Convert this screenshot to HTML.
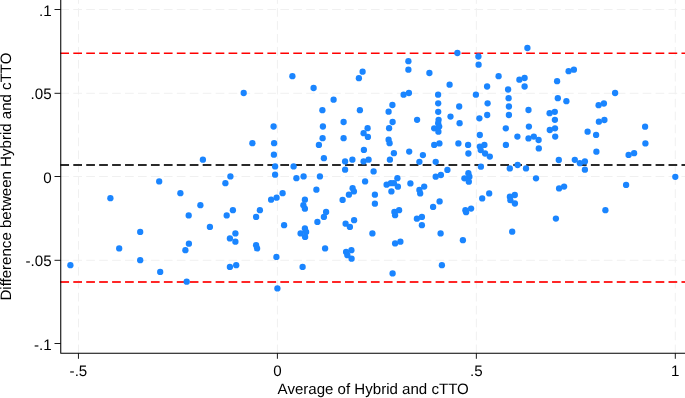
<!DOCTYPE html>
<html><head><meta charset="utf-8"><title>Bland-Altman plot</title>
<style>
html,body{margin:0;padding:0;background:#fff;}
svg{display:block;}
text{font-family:"Liberation Sans",Arial,sans-serif;font-size:15.07px;fill:#000;text-rendering:geometricPrecision;}
.t text{font-size:15.15px;}
.g{stroke:#f0f0f0;stroke-width:1;stroke-dasharray:8.7 4.24;fill:none;}
.ax{stroke:#000;stroke-width:1.05;fill:none;}
.tk{stroke:#000;stroke-width:0.9;fill:none;}
.r{stroke:#ff0000;stroke-width:1.65;stroke-dasharray:8.7 4.24;fill:none;}
.k{stroke:#2a2a2a;stroke-width:2;stroke-dasharray:8.7 4.24;fill:none;}
.d circle{fill:#1a85ff;}
</style></head><body>
<svg width="685" height="398" viewBox="0 0 685 398">
<rect width="685" height="398" fill="#fff"/>

<line class="g" x1="60.35" x2="690" y1="9.50" y2="9.50"/>
<line class="g" x1="60.35" x2="690" y1="93.30" y2="93.30"/>
<line class="g" x1="60.35" x2="690" y1="176.50" y2="176.50"/>
<line class="g" x1="60.35" x2="690" y1="260.30" y2="260.30"/>
<line class="g" x1="78.45" x2="78.45" y1="353.25" y2="-5"/>
<line class="g" x1="277.40" x2="277.40" y1="353.25" y2="-5"/>
<line class="g" x1="476.35" x2="476.35" y1="353.25" y2="-5"/>
<line class="g" x1="675.30" x2="675.30" y1="353.25" y2="-5"/>
<line class="r" x1="60.35" x2="690" y1="53.25" y2="53.25"/>
<line class="r" style="stroke:#ff2626;stroke-width:2" x1="60.35" x2="690" y1="282" y2="282"/>
<line class="k" x1="60.35" x2="690" y1="165" y2="165"/>
<g class="d">
<circle cx="202.9" cy="159.7" r="3.15"/>
<circle cx="159.2" cy="181.4" r="3.15"/>
<circle cx="180.4" cy="193.2" r="3.15"/>
<circle cx="110.4" cy="198.2" r="3.15"/>
<circle cx="225.4" cy="183.2" r="3.15"/>
<circle cx="230.4" cy="176.4" r="3.15"/>
<circle cx="70.4" cy="265.2" r="3.15"/>
<circle cx="119.2" cy="248.4" r="3.15"/>
<circle cx="140.2" cy="231.9" r="3.15"/>
<circle cx="140.2" cy="260.2" r="3.15"/>
<circle cx="160.2" cy="271.9" r="3.15"/>
<circle cx="186.7" cy="281.7" r="3.15"/>
<circle cx="185.4" cy="250.2" r="3.15"/>
<circle cx="188.9" cy="243.7" r="3.15"/>
<circle cx="188.7" cy="215.4" r="3.15"/>
<circle cx="200.4" cy="205.2" r="3.15"/>
<circle cx="209.9" cy="226.9" r="3.15"/>
<circle cx="226.7" cy="215.4" r="3.15"/>
<circle cx="232.9" cy="210.2" r="3.15"/>
<circle cx="229.9" cy="238.4" r="3.15"/>
<circle cx="229.9" cy="266.9" r="3.15"/>
<circle cx="243.7" cy="93.0" r="3.15"/>
<circle cx="292.4" cy="76.2" r="3.15"/>
<circle cx="313.6" cy="88.0" r="3.15"/>
<circle cx="333.6" cy="99.7" r="3.15"/>
<circle cx="358.9" cy="78.2" r="3.15"/>
<circle cx="362.6" cy="71.7" r="3.15"/>
<circle cx="403.6" cy="94.7" r="3.15"/>
<circle cx="322.4" cy="110.2" r="3.15"/>
<circle cx="359.9" cy="110.2" r="3.15"/>
<circle cx="392.4" cy="105.0" r="3.15"/>
<circle cx="388.6" cy="111.7" r="3.15"/>
<circle cx="273.6" cy="126.5" r="3.15"/>
<circle cx="322.9" cy="126.5" r="3.15"/>
<circle cx="343.6" cy="122.0" r="3.15"/>
<circle cx="392.6" cy="122.0" r="3.15"/>
<circle cx="389.1" cy="128.2" r="3.15"/>
<circle cx="367.6" cy="128.2" r="3.15"/>
<circle cx="363.6" cy="133.2" r="3.15"/>
<circle cx="367.9" cy="136.9" r="3.15"/>
<circle cx="343.6" cy="138.2" r="3.15"/>
<circle cx="322.6" cy="138.2" r="3.15"/>
<circle cx="388.6" cy="139.7" r="3.15"/>
<circle cx="389.6" cy="143.2" r="3.15"/>
<circle cx="252.4" cy="143.2" r="3.15"/>
<circle cx="274.1" cy="143.2" r="3.15"/>
<circle cx="318.9" cy="144.9" r="3.15"/>
<circle cx="363.9" cy="149.9" r="3.15"/>
<circle cx="393.9" cy="153.2" r="3.15"/>
<circle cx="273.9" cy="154.7" r="3.15"/>
<circle cx="323.9" cy="158.2" r="3.15"/>
<circle cx="352.4" cy="159.7" r="3.15"/>
<circle cx="345.1" cy="161.4" r="3.15"/>
<circle cx="363.6" cy="161.4" r="3.15"/>
<circle cx="368.6" cy="159.7" r="3.15"/>
<circle cx="389.9" cy="159.7" r="3.15"/>
<circle cx="275.1" cy="166.4" r="3.15"/>
<circle cx="293.6" cy="166.4" r="3.15"/>
<circle cx="345.1" cy="169.7" r="3.15"/>
<circle cx="373.6" cy="171.4" r="3.15"/>
<circle cx="275.1" cy="174.7" r="3.15"/>
<circle cx="296.4" cy="178.2" r="3.15"/>
<circle cx="303.6" cy="176.4" r="3.15"/>
<circle cx="319.9" cy="176.4" r="3.15"/>
<circle cx="397.4" cy="178.2" r="3.15"/>
<circle cx="365.1" cy="181.4" r="3.15"/>
<circle cx="386.6" cy="184.7" r="3.15"/>
<circle cx="390.9" cy="183.2" r="3.15"/>
<circle cx="393.9" cy="183.2" r="3.15"/>
<circle cx="397.9" cy="186.7" r="3.15"/>
<circle cx="391.4" cy="191.4" r="3.15"/>
<circle cx="316.4" cy="189.7" r="3.15"/>
<circle cx="352.6" cy="188.2" r="3.15"/>
<circle cx="353.9" cy="191.4" r="3.15"/>
<circle cx="348.9" cy="194.7" r="3.15"/>
<circle cx="374.9" cy="194.7" r="3.15"/>
<circle cx="282.6" cy="193.2" r="3.15"/>
<circle cx="276.6" cy="197.7" r="3.15"/>
<circle cx="271.1" cy="199.7" r="3.15"/>
<circle cx="304.9" cy="199.7" r="3.15"/>
<circle cx="342.6" cy="199.9" r="3.15"/>
<circle cx="259.9" cy="210.2" r="3.15"/>
<circle cx="256.1" cy="216.9" r="3.15"/>
<circle cx="303.4" cy="205.2" r="3.15"/>
<circle cx="304.9" cy="208.7" r="3.15"/>
<circle cx="374.9" cy="203.7" r="3.15"/>
<circle cx="326.1" cy="211.9" r="3.15"/>
<circle cx="323.9" cy="216.9" r="3.15"/>
<circle cx="317.4" cy="221.9" r="3.15"/>
<circle cx="394.4" cy="211.9" r="3.15"/>
<circle cx="399.1" cy="210.2" r="3.15"/>
<circle cx="395.1" cy="215.2" r="3.15"/>
<circle cx="284.1" cy="225.2" r="3.15"/>
<circle cx="354.1" cy="220.2" r="3.15"/>
<circle cx="345.6" cy="223.7" r="3.15"/>
<circle cx="349.9" cy="226.9" r="3.15"/>
<circle cx="235.4" cy="233.4" r="3.15"/>
<circle cx="235.4" cy="241.7" r="3.15"/>
<circle cx="304.9" cy="228.4" r="3.15"/>
<circle cx="300.6" cy="233.4" r="3.15"/>
<circle cx="306.1" cy="231.9" r="3.15"/>
<circle cx="305.1" cy="236.9" r="3.15"/>
<circle cx="372.4" cy="233.4" r="3.15"/>
<circle cx="256.1" cy="245.2" r="3.15"/>
<circle cx="257.1" cy="248.4" r="3.15"/>
<circle cx="325.1" cy="248.4" r="3.15"/>
<circle cx="395.1" cy="243.4" r="3.15"/>
<circle cx="400.4" cy="241.7" r="3.15"/>
<circle cx="351.4" cy="250.2" r="3.15"/>
<circle cx="346.1" cy="251.9" r="3.15"/>
<circle cx="347.4" cy="255.2" r="3.15"/>
<circle cx="351.6" cy="258.7" r="3.15"/>
<circle cx="276.4" cy="256.9" r="3.15"/>
<circle cx="236.2" cy="265.2" r="3.15"/>
<circle cx="302.6" cy="266.9" r="3.15"/>
<circle cx="392.6" cy="273.4" r="3.15"/>
<circle cx="277.4" cy="288.4" r="3.15"/>
<circle cx="457.4" cy="53.0" r="3.15"/>
<circle cx="527.4" cy="48.0" r="3.15"/>
<circle cx="478.4" cy="56.5" r="3.15"/>
<circle cx="408.4" cy="61.2" r="3.15"/>
<circle cx="408.4" cy="69.7" r="3.15"/>
<circle cx="478.6" cy="64.7" r="3.15"/>
<circle cx="429.4" cy="73.0" r="3.15"/>
<circle cx="498.6" cy="76.2" r="3.15"/>
<circle cx="568.6" cy="71.2" r="3.15"/>
<circle cx="573.9" cy="69.7" r="3.15"/>
<circle cx="519.4" cy="79.7" r="3.15"/>
<circle cx="524.6" cy="78.0" r="3.15"/>
<circle cx="557.1" cy="81.2" r="3.15"/>
<circle cx="449.6" cy="84.7" r="3.15"/>
<circle cx="487.1" cy="86.5" r="3.15"/>
<circle cx="524.6" cy="86.5" r="3.15"/>
<circle cx="508.1" cy="89.5" r="3.15"/>
<circle cx="408.9" cy="93.0" r="3.15"/>
<circle cx="438.1" cy="94.7" r="3.15"/>
<circle cx="475.9" cy="94.7" r="3.15"/>
<circle cx="508.6" cy="98.2" r="3.15"/>
<circle cx="557.8" cy="98.2" r="3.15"/>
<circle cx="566.4" cy="101.2" r="3.15"/>
<circle cx="433.1" cy="206.9" r="3.15"/>
<circle cx="465.4" cy="210.2" r="3.15"/>
<circle cx="466.1" cy="212.2" r="3.15"/>
<circle cx="471.1" cy="208.6" r="3.15"/>
<circle cx="416.9" cy="218.7" r="3.15"/>
<circle cx="421.9" cy="216.9" r="3.15"/>
<circle cx="421.9" cy="225.2" r="3.15"/>
<circle cx="440.6" cy="233.4" r="3.15"/>
<circle cx="462.9" cy="240.2" r="3.15"/>
<circle cx="512.2" cy="231.7" r="3.15"/>
<circle cx="555.9" cy="218.6" r="3.15"/>
<circle cx="441.9" cy="265.2" r="3.15"/>
<circle cx="615.1" cy="93.0" r="3.15"/>
<circle cx="598.6" cy="105.2" r="3.15"/>
<circle cx="603.9" cy="103.5" r="3.15"/>
<circle cx="598.9" cy="121.7" r="3.15"/>
<circle cx="604.4" cy="120.0" r="3.15"/>
<circle cx="587.6" cy="131.7" r="3.15"/>
<circle cx="596.1" cy="134.9" r="3.15"/>
<circle cx="596.4" cy="151.7" r="3.15"/>
<circle cx="645.1" cy="126.7" r="3.15"/>
<circle cx="645.4" cy="143.4" r="3.15"/>
<circle cx="628.6" cy="154.9" r="3.15"/>
<circle cx="634.1" cy="153.2" r="3.15"/>
<circle cx="579.9" cy="163.2" r="3.15"/>
<circle cx="584.9" cy="161.4" r="3.15"/>
<circle cx="584.9" cy="169.7" r="3.15"/>
<circle cx="675.3" cy="176.8" r="3.15"/>
<circle cx="626.1" cy="184.9" r="3.15"/>
<circle cx="605.4" cy="210.2" r="3.15"/>
<circle cx="438.2" cy="103.3" r="3.15"/>
<circle cx="459.2" cy="106.5" r="3.15"/>
<circle cx="487.6" cy="103.3" r="3.15"/>
<circle cx="438.2" cy="111.8" r="3.15"/>
<circle cx="450.5" cy="116.6" r="3.15"/>
<circle cx="417.1" cy="119.8" r="3.15"/>
<circle cx="487.2" cy="115.0" r="3.15"/>
<circle cx="479.4" cy="118.3" r="3.15"/>
<circle cx="438.6" cy="119.8" r="3.15"/>
<circle cx="438.2" cy="123.2" r="3.15"/>
<circle cx="439.2" cy="126.6" r="3.15"/>
<circle cx="434.2" cy="128.3" r="3.15"/>
<circle cx="438.4" cy="131.7" r="3.15"/>
<circle cx="459.6" cy="123.2" r="3.15"/>
<circle cx="479.8" cy="135.0" r="3.15"/>
<circle cx="434.2" cy="144.9" r="3.15"/>
<circle cx="439.4" cy="143.4" r="3.15"/>
<circle cx="458.4" cy="143.4" r="3.15"/>
<circle cx="468.1" cy="144.9" r="3.15"/>
<circle cx="479.8" cy="146.6" r="3.15"/>
<circle cx="484.4" cy="144.9" r="3.15"/>
<circle cx="480.7" cy="150.1" r="3.15"/>
<circle cx="409.2" cy="151.6" r="3.15"/>
<circle cx="508.9" cy="106.5" r="3.15"/>
<circle cx="508.9" cy="115.0" r="3.15"/>
<circle cx="528.5" cy="110.0" r="3.15"/>
<circle cx="549.6" cy="113.2" r="3.15"/>
<circle cx="554.8" cy="111.8" r="3.15"/>
<circle cx="554.9" cy="119.8" r="3.15"/>
<circle cx="505.8" cy="128.3" r="3.15"/>
<circle cx="528.9" cy="126.6" r="3.15"/>
<circle cx="549.8" cy="130.0" r="3.15"/>
<circle cx="555.0" cy="128.3" r="3.15"/>
<circle cx="555.2" cy="136.6" r="3.15"/>
<circle cx="517.4" cy="136.6" r="3.15"/>
<circle cx="528.5" cy="138.4" r="3.15"/>
<circle cx="533.8" cy="136.6" r="3.15"/>
<circle cx="538.6" cy="140.0" r="3.15"/>
<circle cx="505.9" cy="144.9" r="3.15"/>
<circle cx="538.8" cy="148.4" r="3.15"/>
<circle cx="422.9" cy="155.1" r="3.15"/>
<circle cx="419.4" cy="161.8" r="3.15"/>
<circle cx="435.7" cy="161.8" r="3.15"/>
<circle cx="468.4" cy="153.5" r="3.15"/>
<circle cx="485.1" cy="153.5" r="3.15"/>
<circle cx="489.8" cy="156.6" r="3.15"/>
<circle cx="480.9" cy="166.7" r="3.15"/>
<circle cx="447.4" cy="169.9" r="3.15"/>
<circle cx="440.9" cy="175.0" r="3.15"/>
<circle cx="435.7" cy="176.7" r="3.15"/>
<circle cx="468.4" cy="173.2" r="3.15"/>
<circle cx="469.4" cy="176.7" r="3.15"/>
<circle cx="464.4" cy="178.3" r="3.15"/>
<circle cx="468.8" cy="181.7" r="3.15"/>
<circle cx="410.4" cy="183.4" r="3.15"/>
<circle cx="424.2" cy="186.6" r="3.15"/>
<circle cx="419.4" cy="190.0" r="3.15"/>
<circle cx="420.2" cy="193.4" r="3.15"/>
<circle cx="489.2" cy="193.4" r="3.15"/>
<circle cx="482.2" cy="198.4" r="3.15"/>
<circle cx="439.6" cy="201.4" r="3.15"/>
<circle cx="558.8" cy="160.0" r="3.15"/>
<circle cx="574.8" cy="159.8" r="3.15"/>
<circle cx="517.6" cy="165.0" r="3.15"/>
<circle cx="509.8" cy="168.4" r="3.15"/>
<circle cx="526.0" cy="168.4" r="3.15"/>
<circle cx="536.0" cy="178.3" r="3.15"/>
<circle cx="564.1" cy="186.6" r="3.15"/>
<circle cx="559.1" cy="188.4" r="3.15"/>
<circle cx="514.8" cy="195.0" r="3.15"/>
<circle cx="509.9" cy="196.7" r="3.15"/>
<circle cx="510.4" cy="200.2" r="3.15"/>
<circle cx="514.9" cy="203.5" r="3.15"/>
</g>
<path class="ax" stroke-linejoin="round" d="M60.75,-2V353.25H690"/>
<g class="t">
<line class="tk" x1="54.5" x2="60.75" y1="9.50" y2="9.50"/>
<text x="51.6" y="16" text-anchor="end">.1</text>
<line class="tk" x1="54.5" x2="60.75" y1="93.30" y2="93.30"/>
<text x="51.6" y="99" text-anchor="end">.05</text>
<line class="tk" x1="54.5" x2="60.75" y1="176.50" y2="176.50"/>
<text x="51.6" y="183" text-anchor="end">0</text>
<line class="tk" x1="54.5" x2="60.75" y1="260.30" y2="260.30"/>
<text x="51.6" y="266" text-anchor="end">-.05</text>
<line class="tk" x1="54.5" x2="60.75" y1="343.50" y2="343.50"/>
<text x="51.6" y="350" text-anchor="end">-.1</text>
<line class="tk" x1="78.45" x2="78.45" y1="353.25" y2="358.8"/>
<text x="78.45" y="376" text-anchor="middle">-.5</text>
<line class="tk" x1="277.40" x2="277.40" y1="353.25" y2="358.8"/>
<text x="277.40" y="376" text-anchor="middle">0</text>
<line class="tk" x1="476.35" x2="476.35" y1="353.25" y2="358.8"/>
<text x="476.35" y="376" text-anchor="middle">.5</text>
<line class="tk" x1="675.30" x2="675.30" y1="353.25" y2="358.8"/>
<text x="675.30" y="376" text-anchor="middle">1</text>
</g>
<text x="373.2" y="394" text-anchor="middle">Average of Hybrid and cTTO</text>
<text transform="translate(10.8,176.55) rotate(-90)" text-anchor="middle">Difference between Hybrid and cTTO</text>
</svg></body></html>
